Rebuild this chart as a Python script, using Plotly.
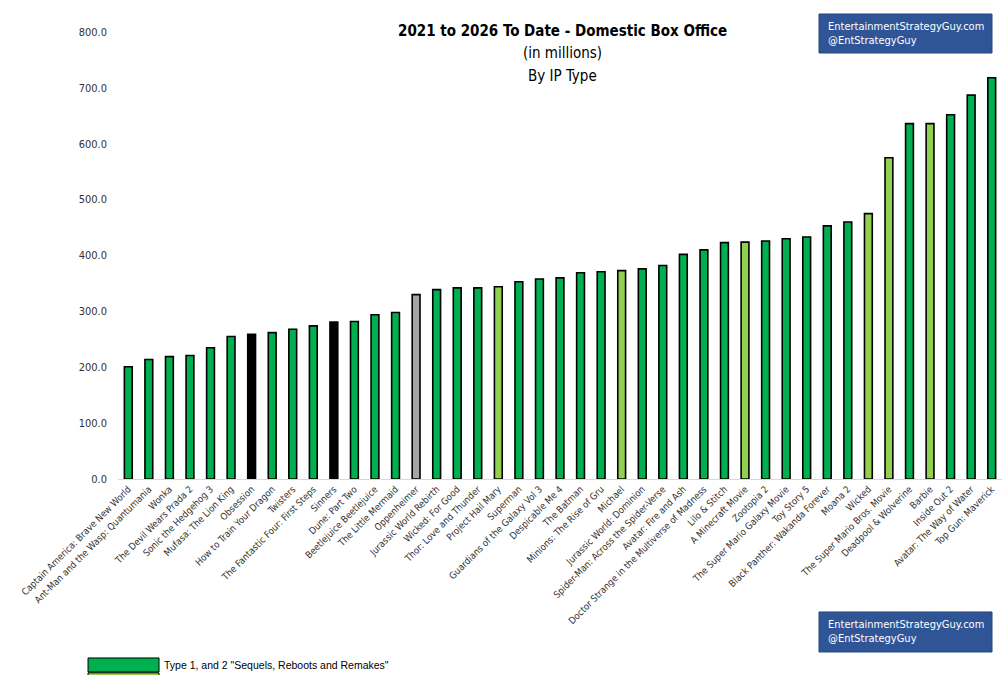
import plotly.graph_objects as go

titles = [
    "Captain America: Brave New World", "Ant-Man and the Wasp: Quantumania", "Wonka",
    "The Devil Wears Prada 2", "Sonic the Hedgehog 3", "Mufasa: The Lion King", "Obsession",
    "How to Train Your Dragon", "Twisters", "The Fantastic Four: First Steps", "Sinners",
    "Dune: Part Two", "Beetlejuice Beetlejuice", "The Little Mermaid", "Oppenheimer",
    "Jurassic World Rebirth", "Wicked: For Good", "Thor: Love and Thunder", "Project Hail Mary",
    "Superman", "Guardians of the Galaxy Vol 3", "Despicable Me 4", "The Batman",
    "Minions: The Rise of Gru", "Michael", "Jurassic World: Dominion",
    "Spider-Man: Across the Spider-Verse", "Avatar: Fire and Ash",
    "Doctor Strange in the Multiverse of Madness", "Lilo & Stitch", "A Minecraft Movie",
    "Zootopia 2", "The Super Mario Galaxy Movie", "Toy Story 5", "Black Panther: Wakanda Forever",
    "Moana 2", "Wicked", "The Super Mario Bros. Movie", "Deadpool & Wolverine", "Barbie",
    "Inside Out 2", "Avatar: The Way of Water", "Top Gun: Maverick",
]

box_office = [
    201, 214, 219, 221, 235, 255, 259, 262, 268, 274, 281, 282, 294, 298, 330,
    339, 342, 342, 344, 353, 358, 360, 369, 371, 373, 376, 382, 402, 410, 423,
    424, 426, 430, 433, 453, 460, 475, 575, 636, 636, 652, 687, 718,
]

ip_type = [
    "T12", "T12", "T12", "T12", "T12", "T12", "ORIG", "T12", "T12", "T12", "ORIG",
    "T12", "T12", "T12", "BIO", "T12", "T12", "T12", "ADAPT", "T12", "T12", "T12",
    "T12", "T12", "ADAPT", "T12", "T12", "T12", "T12", "T12", "ADAPT", "T12", "T12",
    "T12", "T12", "T12", "ADAPT", "ADAPT", "T12", "ADAPT", "T12", "T12", "T12",
]

type_colors = {"T12": "#00B050", "ADAPT": "#92D050", "ORIG": "#000000", "BIO": "#A6A6A6"}

y_ticks = [0, 100, 200, 300, 400, 500, 600, 700, 800]

COND = "DejaVu Sans Condensed, DejaVu Sans, sans-serif"

fig = go.Figure()
fig.add_trace(go.Bar(
    x=titles, y=box_office,
    marker=dict(color=[type_colors[t] for t in ip_type], line=dict(color="#000000", width=1.6)),
    width=0.38, showlegend=False,
))

fig.update_layout(
    width=1008, height=675,
    margin=dict(l=118, r=6, t=32, b=196),
    paper_bgcolor="white", plot_bgcolor="white",
    font=dict(family=COND, color="#333333"),
    xaxis=dict(
        tickangle=-45, tickfont=dict(size=9.5, color="#333333", family=COND),
        showline=True, linecolor="#D9D9D9", linewidth=1, ticks="", showgrid=False,
        range=[-0.5, len(titles) - 0.5],
    ),
    yaxis=dict(
        range=[0, 800], tickvals=y_ticks, tickformat=".1f",
        tickfont=dict(size=11, color="#333333", family=COND),
        showgrid=False, zeroline=False, ticks="", ticklabelstandoff=10,
    ),
)

# Title
fig.add_annotation(xref="paper", yref="paper", x=0.503, y=1.003, yanchor="middle",
                   text="<b>2021 to 2026 To Date - Domestic Box Office</b>", showarrow=False,
                   font=dict(size=15, color="#000000", family=COND))
fig.add_annotation(xref="paper", yref="paper", x=0.503, y=0.952, yanchor="middle",
                   text="(in millions)", showarrow=False,
                   font=dict(size=15, color="#000000", family=COND))
fig.add_annotation(xref="paper", yref="paper", x=0.503, y=0.902, yanchor="middle",
                   text="By IP Type", showarrow=False,
                   font=dict(size=15, color="#000000", family=COND))

# Branding boxes
for (y0, y1) in [(0.953, 1.0403), (-0.387, -0.2975)]:
    fig.add_shape(type="rect", xref="paper", yref="paper", x0=0.793, x1=0.9887, y0=y0, y1=y1,
                  fillcolor="#2F5597", line=dict(color="#24467F", width=1))
    fig.add_annotation(xref="paper", yref="paper", x=0.801, y=(y0 + y1) / 2, xanchor="left",
                       yanchor="middle", align="left", showarrow=False,
                       text="EntertainmentStrategyGuy.com<br>@EntStrategyGuy",
                       font=dict(size=11, color="#FFFFFF", family=COND))

# Legend keys
fig.add_shape(type="rect", xref="paper", yref="paper", x0=-0.0339, x1=0.0464, y0=-0.4318, y1=-0.4004,
              fillcolor="#00B050", line=dict(color="#000000", width=1))
fig.add_shape(type="rect", xref="paper", yref="paper", x0=-0.0339, x1=0.0464, y0=-0.465, y1=-0.4336,
              fillcolor="#92D050", line=dict(color="#000000", width=1))
fig.add_annotation(xref="paper", yref="paper", x=0.05, y=-0.416, xanchor="left", yanchor="middle",
                   showarrow=False, text='Type 1, and 2 "Sequels, Reboots and Remakes"',
                   font=dict(size=10.5, color="#000000", family="Liberation Sans, Arial, sans-serif"))

fig.write_html("out.html")
